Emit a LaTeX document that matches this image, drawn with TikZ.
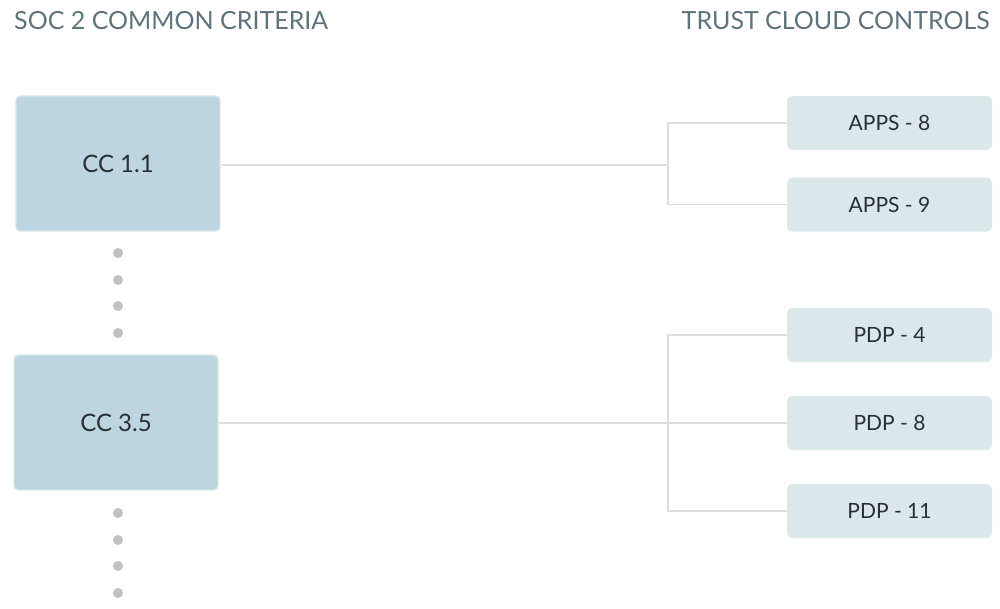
\documentclass[tikz,border=0pt]{standalone}
\usepackage{fontspec}
\setmainfont{Lato}
\definecolor{bigfill}{HTML}{BCD5E0}
\definecolor{smallfill}{HTML}{DCE7EA}
\definecolor{linec}{HTML}{DEDEDE}
\definecolor{dotc}{HTML}{C0C0C0}
\definecolor{titlec}{HTML}{5F737B}
\definecolor{txt}{HTML}{2A2F33}
\tikzset{
 x=1pt,y=-1pt,
 bigbox/.style={draw=smallfill,line width=1.2pt,fill=bigfill,rounded corners=4pt,minimum width=204pt,minimum height=135pt,inner sep=0,text=txt,font=\fontsize{24}{28}\selectfont},
 smallbox/.style={fill=smallfill,rounded corners=5pt,minimum width=205pt,minimum height=54pt,inner sep=0,text=txt,font=\fontsize{21}{25}\selectfont},
 conn/.style={draw=linec,line width=1.5pt},
 dotn/.style={circle,fill=dotc,minimum size=10pt,inner sep=0},
 title/.style={text=titlec,font=\fontsize{25}{30}\selectfont,inner sep=0}
}
\begin{document}
\begin{tikzpicture}
\useasboundingbox (0,0) rectangle (1000,608);
\node[title,anchor=west] (t1) at (14,21) {SOC 2 COMMON CRITERIA};
\node[title,anchor=east] (t2) at (990,21) {TRUST CLOUD CONTROLS};
\node[bigbox] (cc11) at (118,163.5) {CC 1.1};
\node[bigbox] (cc35) at (116,422.5) {CC 3.5};
\node[smallbox] (a8) at (889.5,123) {APPS - 8};
\node[smallbox] (a9) at (889.5,204.5) {APPS - 9};
\node[smallbox] (p4) at (889.5,335) {PDP - 4};
\node[smallbox] (p8) at (889.5,423) {PDP - 8};
\node[smallbox] (p11) at (889.5,511) {PDP - 11};
\coordinate (j1) at (668,165);
\coordinate (j2) at (668,423);
\draw[conn] (cc11.east |- j1) -- (j1);
\draw[conn] (a8.west) -| (j1) |- (a9.west);
\draw[conn] (cc35.east |- j2) -- (p8.west);
\draw[conn] (p4.west) -| (j2) |- (p11.west);
\foreach \y/\n in {253/d1,280/d2,306/d3,333/d4,513/d5,540/d6,566/d7,593/d8}
  \node[dotn] (\n) at (118,\y) {};
\end{tikzpicture}
\end{document}
